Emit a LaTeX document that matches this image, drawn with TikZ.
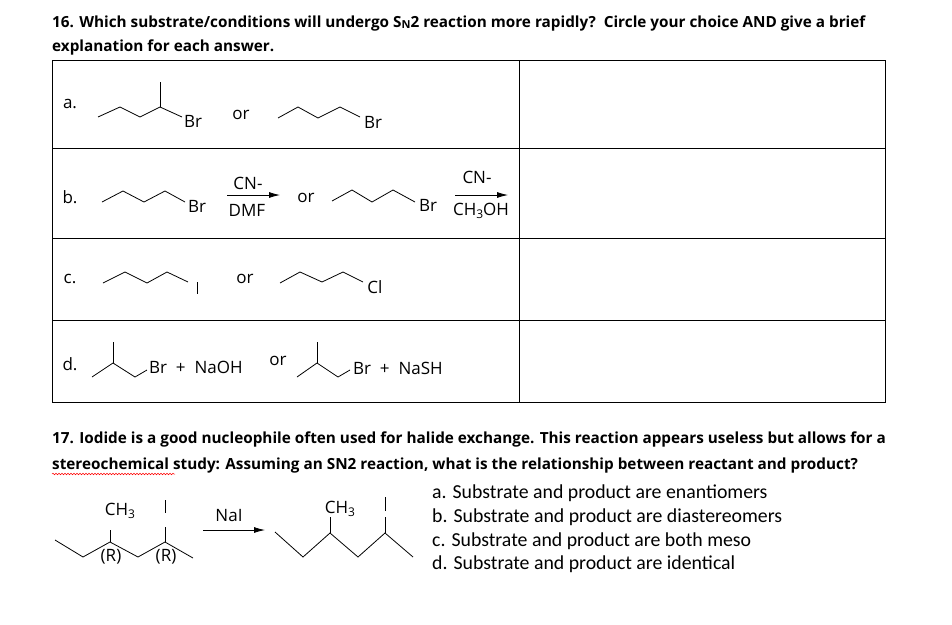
\documentclass[tikz,border=0pt]{standalone}
\usepackage{fontspec}
\setmainfont{Open Sans}
\newfontfamily\carlitofont{Carlito}
\usetikzlibrary{decorations.pathmorphing,arrows.meta}
\newcommand{\mysub}[1]{\raisebox{-3pt}{\fontsize{12}{12}\selectfont #1}}
\begin{document}
\begin{tikzpicture}[x=1pt,y=-1pt,
 bond/.style={line width=0.8pt},
 lab/.style={font=\fontsize{17}{19}\selectfont, inner sep=0pt},
 q/.style={font=\bfseries\fontsize{15.3}{17}\selectfont, anchor=base west, inner sep=0pt},
 ans/.style={font=\carlitofont\fontsize{19.8}{22}\selectfont, anchor=base west, inner sep=0pt},
 rx/.style={line width=0.8pt,-{Latex[length=11pt,width=6pt]}}]
\useasboundingbox (0,0) rectangle (952,624);
\fill[white] (0,0) rectangle (952,624);
\node[q] (t1) at (52,27) {16. Which substrate/conditions will undergo S\raisebox{-1pt}{\fontsize{11}{11}\selectfont N}2 reaction more rapidly?\ \ Circle your choice AND give a brief};
\node[q] (t2) at (52,51) {explanation for each answer.};
% table
\draw[line width=0.8pt] (52,60) rectangle (885,402);
\foreach \yy in {148,238,320} \draw[line width=0.8pt] (52,\yy) -- (885,\yy);
\draw[line width=0.8pt] (519,60) -- (519,402);
% row a
\node[lab] (la) at (70,104) {a.};
\draw[bond] (98,117)--(120,107)--(140,117)--(160,107)--(182,117);
\draw[bond] (160,107)--(160,82);
\node[lab] (bra1) at (193,121) {Br};
\node[lab] (ora) at (241,115) {or};
\draw[bond] (278,118)--(298,107)--(318,118)--(340,107)--(360,117);
\node[lab] (bra2) at (373,122) {Br};
% row b
\node[lab] (lb) at (70,197) {b.};
\draw[bond] (102,202)--(123,191)--(144,202)--(165,191)--(185,202);
\node[lab] (brb1) at (197,206) {Br};
\coordinate (b1s) at (227,195); \coordinate (b1e) at (280,195);
\draw[rx] (b1s) -- (b1e);
\node[lab] (cn1) at (248,183) {CN-};
\node[lab] (dmf) at (247,210) {DMF};
\node[lab] (orb) at (306,198) {or};
\draw[bond] (332,201)--(352,190)--(372,202)--(393,190)--(415,202);
\node[lab] (brb2) at (428,205) {Br};
\coordinate (b2s) at (455,195); \coordinate (b2e) at (508,195);
\draw[rx] (b2s) -- (b2e);
\node[lab] (cn2) at (477,177) {CN-};
\node[lab] (meoh) at (481,211) {CH\mysub{3}OH};
% row c
\node[lab] (lc) at (70,279) {c.};
\draw[bond] (103,283)--(125,272)--(147,283)--(167,272)--(188,282);
\draw[bond] (197,282)--(197,294);
\node[lab] (orc) at (245,279) {or};
\draw[bond] (280,283)--(300,272)--(322,282)--(343,272)--(363,282);
\node[lab] (cl) at (375,287) {Cl};
% row d
\node[lab] (ld) at (70,364) {d.};
\draw[bond] (92,377)--(113,363)--(135,377)--(147,370);
\draw[bond] (113,363)--(113,342);
\node[lab,anchor=west] (brd1) at (149,367) {Br\ \ +\ \ NaOH};
\node[lab] (ord) at (278,361) {or};
\draw[bond] (297,377)--(317,363)--(338,377)--(350,370);
\draw[bond] (317,363)--(317,342);
\node[lab,anchor=west] (brd2) at (353,368) {Br\ \ +\ \ NaSH};
% question 17
\node[q] (t3) at (52,443) {17. Iodide is a good nucleophile often used for halide exchange. This reaction appears useless but allows for a};
\node[q] (t4) at (52,469) {stereochemical study: Assuming an SN2 reaction, what is the relationship between reactant and product?};
\draw[red,line width=0.5pt,decorate,decoration={snake,amplitude=0.8pt,segment length=3pt}] (52,474)--(175,474);
\node[ans] (a1) at (432,498) {a. Substrate and product are enantiomers};
\node[ans] (a2) at (432,522) {b. Substrate and product are diastereomers};
\node[ans] (a3) at (432,546) {c. Substrate and product are both meso};
\node[ans] (a4) at (432,569) {d. Substrate and product are identical};
% reaction
\draw[bond] (55,540)--(83,557)--(110,542)--(138,557)--(165,542)--(193,558);
\draw[bond] (110,542)--(110,530);
\draw[bond] (165,542)--(165,527);
\node[lab] (me1) at (120,511) {CH\mysub{3}};
\draw[bond] (165,500)--(165,513);
\node[lab] (r1) at (111,557) {(R)};
\node[lab] (r2) at (166,557) {(R)};
\coordinate (rs) at (203,530); \coordinate (re) at (265,530);
\draw[rx] (rs) -- (re);
\node[lab] (nai) at (229,516) {NaI};
\draw[bond] (275,532)--(303,557)--(330,533)--(358,557)--(385,533)--(413,557);
\draw[bond] (330,533)--(330,517);
\draw[bond] (385,533)--(385,517);
\node[lab] (me2) at (340,509) {CH\mysub{3}};
\draw[bond] (385,497)--(385,511);
\end{tikzpicture}
\end{document}
